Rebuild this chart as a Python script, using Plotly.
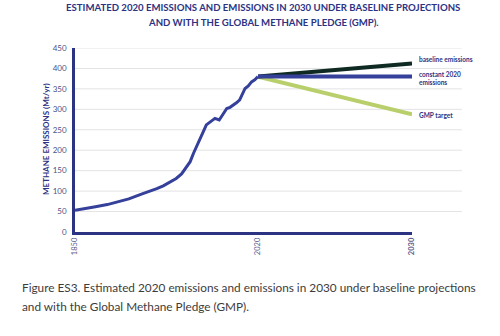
import plotly.graph_objects as go

# Historical global methane emissions (Mt/yr)
hist_years = [1850, 1860, 1869, 1880, 1891, 1900, 1913, 1921, 1926, 1932, 1938, 1944,
              1949, 1953, 1957, 1960, 1963, 1966, 1969, 1972, 1976, 1980, 1984, 1988,
              1991, 1994, 1997, 2000, 2003, 2006, 2008, 2011, 2014, 2017, 2020]
hist_values = [53, 57, 62, 67, 74, 81, 94, 101, 106, 113, 122, 131,
               142, 156, 172, 192, 208, 225, 244, 262, 270, 278, 274, 290,
               302, 305, 310, 316, 323, 338, 351, 357, 367, 372, 380]

# Projections from 2020 to 2030
proj_years = [2020, 2030]
baseline = [380, 412]
constant_2020 = [380, 380]
gmp_target = [380, 288]

y_ticks = [0, 50, 100, 150, 200, 250, 300, 350, 400, 450]

NAVY = "#2d3383"
LINE_BLUE = "#34409a"
DARK = "#0f2a22"
GREEN = "#b9cf6c"
GRID = "#e3e3e6"

fig = go.Figure()

fig.add_trace(go.Scatter(x=hist_years, y=hist_values, mode="lines",
                         line=dict(color=LINE_BLUE, width=3), xaxis="x", yaxis="y",
                         showlegend=False, hoverinfo="skip"))
fig.add_trace(go.Scatter(x=proj_years, y=gmp_target, mode="lines",
                         line=dict(color=GREEN, width=4), xaxis="x2", yaxis="y",
                         showlegend=False))
fig.add_trace(go.Scatter(x=proj_years, y=baseline, mode="lines",
                         line=dict(color=DARK, width=4), xaxis="x2", yaxis="y",
                         showlegend=False))
fig.add_trace(go.Scatter(x=proj_years, y=constant_2020, mode="lines",
                         line=dict(color=LINE_BLUE, width=4), xaxis="x2", yaxis="y",
                         showlegend=False))

split = 0.543
tick_font = dict(family="Lato", size=7.5, color="#5a5e8c")

# Horizontal grid lines, extending past the axis into the label column
shapes = []
for v in y_ticks[1:]:
    shapes.append(dict(type="line", xref="paper", yref="y", x0=0, x1=1.148, y0=v, y1=v,
                       line=dict(color=GRID, width=1), layer="below"))

fig.update_layout(
    width=500, height=336,
    margin=dict(l=75, r=88, t=48, b=104),
    paper_bgcolor="white", plot_bgcolor="white",
    shapes=shapes,
    xaxis=dict(domain=[0, split], range=[1850, 2020], tickvals=[1850, 2020],
               ticktext=["1850", "2020"], tickangle=-90, tickfont=tick_font,
               showgrid=False, zeroline=False, showline=True,
               linecolor=NAVY, linewidth=2.5, ticks="", anchor="y"),
    xaxis2=dict(domain=[split, 1], range=[2020, 2030], tickvals=[2030],
                ticktext=["<b>2030</b>"], tickangle=-90, tickfont=tick_font,
                showgrid=False, zeroline=False, showline=True,
                linecolor=NAVY, linewidth=2.5, ticks="", anchor="y"),
    yaxis=dict(range=[0, 450], tickvals=y_ticks, tickfont=dict(family="Lato", size=8, color="#4d5283"),
               showgrid=False, zeroline=False, showline=True, linecolor=NAVY,
               linewidth=2.5, ticks="", ticklabelstandoff=4),
)

annotations = [
    dict(text="<b>ESTIMATED 2020 EMISSIONS AND EMISSIONS IN 2030 UNDER BASELINE PROJECTIONS</b>",
         xref="paper", yref="paper", x=(263 - 75) / 337, y=(232 - 8) / 184,
         xanchor="center", yanchor="middle", showarrow=False,
         font=dict(family="Lato", size=9.6, color=NAVY)),
    dict(text="<b>AND WITH THE GLOBAL METHANE PLEDGE (GMP).</b>",
         xref="paper", yref="paper", x=(263 - 75) / 337, y=(232 - 22) / 184,
         xanchor="center", yanchor="middle", showarrow=False,
         font=dict(family="Lato", size=9.6, color=NAVY)),
    dict(text="<b>METHANE EMISSIONS (Mt/yr)</b>", textangle=-90,
         xref="paper", yref="paper", x=(46 - 75) / 337, y=(232 - 139) / 184,
         xanchor="center", yanchor="middle", showarrow=False,
         font=dict(family="Lato", size=8, color=NAVY)),
    dict(text="<b>baseline emissions</b>", xref="x2", yref="y", x=2030, y=421,
         xanchor="left", yanchor="middle", xshift=5, showarrow=False, align="left",
         font=dict(family="Lato", size=6.5, color=NAVY)),
    dict(text="<b>constant 2020<br>emissions</b>", xref="x2", yref="y", x=2030, y=375,
         xanchor="left", yanchor="middle", xshift=5, showarrow=False, align="left",
         font=dict(family="Lato", size=6.5, color=NAVY)),
    dict(text="<b>GMP target</b>", xref="x2", yref="y", x=2030, y=284,
         xanchor="left", yanchor="middle", xshift=5, showarrow=False, align="left",
         font=dict(family="Lato", size=6.5, color=NAVY)),
    dict(text="Figure ES3. Estimated 2020 emissions and emissions in 2030 under baseline projections",
         xref="paper", yref="paper", x=(20 - 75) / 337, y=(232 - 287) / 184,
         xanchor="left", yanchor="middle", showarrow=False,
         font=dict(family="Lato", size=11.8, color="#3c3c3c")),
    dict(text="and with the Global Methane Pledge (GMP).",
         xref="paper", yref="paper", x=(20 - 75) / 337, y=(232 - 306) / 184,
         xanchor="left", yanchor="middle", showarrow=False,
         font=dict(family="Lato", size=11.8, color="#3c3c3c")),
]
fig.update_layout(annotations=annotations)

fig.write_html("out.html")
